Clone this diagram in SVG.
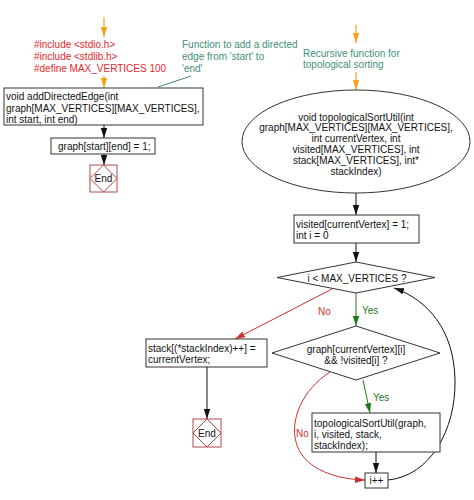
<svg xmlns="http://www.w3.org/2000/svg" width="474" height="500" viewBox="0 0 474 500">
<style>
text{font-family:"Liberation Sans",Arial,sans-serif;font-size:10px;fill:#111}
.box{fill:#fff;stroke:#333;stroke-width:1}
.end{fill:#fff;stroke:#b04848;stroke-width:1}
.pre{fill:#e8262b}
.cmt{fill:#3f8f7a}
.yes{fill:#1e7a1e}
.no{fill:#d23030}
.ln{fill:none;stroke:#111;stroke-width:1}
.lr{fill:none;stroke:#d23030;stroke-width:1}
.lg{fill:none;stroke:#1e7a1e;stroke-width:1}
.lo{fill:none;stroke:#f7a11a;stroke-width:1.2}
</style>
<defs>
<marker id="ab" markerUnits="userSpaceOnUse" markerWidth="10" markerHeight="8" refX="10" refY="4" orient="auto"><path d="M0,0.8 L10,4 L0,7.2 z" fill="#111"/></marker>
<marker id="ar" markerUnits="userSpaceOnUse" markerWidth="10" markerHeight="8" refX="10" refY="4" orient="auto"><path d="M0,0.8 L10,4 L0,7.2 z" fill="#d23030"/></marker>
<marker id="ag" markerUnits="userSpaceOnUse" markerWidth="10" markerHeight="8" refX="10" refY="4" orient="auto"><path d="M0,0.8 L10,4 L0,7.2 z" fill="#1e7a1e"/></marker>
<marker id="ao" markerUnits="userSpaceOnUse" markerWidth="10" markerHeight="8" refX="10" refY="4" orient="auto"><path d="M0,0.8 L10,4 L0,7.2 z" fill="#f7a11a"/></marker>
</defs>
<g id="connectors">
<line class="lo" x1="104" y1="17" x2="104" y2="37" marker-end="url(#ao)"/>
<line class="lo" x1="104" y1="76" x2="104" y2="88" marker-end="url(#ao)"/>
<line class="ln" x1="104" y1="125" x2="104" y2="138" marker-end="url(#ab)"/>
<line class="ln" x1="104" y1="154" x2="104" y2="165" marker-end="url(#ab)"/>
<line x1="158" y1="87" x2="191" y2="76" stroke="#4a8a80" stroke-width="1"/>
<line class="lo" x1="356" y1="25" x2="356" y2="43" marker-end="url(#ao)"/>
<line class="lo" x1="356" y1="72" x2="356" y2="90" marker-end="url(#ao)"/>
<line class="ln" x1="356" y1="193" x2="356" y2="215" marker-end="url(#ab)"/>
<line class="ln" x1="356" y1="243" x2="356" y2="262" marker-end="url(#ab)"/>
<line class="lg" x1="356" y1="293" x2="356" y2="326" marker-end="url(#ag)"/>
<line class="lr" x1="332" y1="289" x2="235" y2="339" marker-end="url(#ar)"/>
<line class="ln" x1="207" y1="367" x2="207" y2="419" marker-end="url(#ab)"/>
<line class="lg" x1="363" y1="380" x2="370" y2="413" marker-end="url(#ag)"/>
<line class="ln" x1="376" y1="452" x2="376" y2="473" marker-end="url(#ab)"/>
<path class="lr" d="M330,372 C302,390 290,420 296,442 C302,466 330,479 365,480" marker-end="url(#ar)"/>
<path class="ln" d="M388,480 C430,476 456,430 455,380 C454,330 428,300 394,288" marker-end="url(#ab)"/>
<text class="no" x="318" y="315">No</text>
<text class="yes" x="362" y="314">Yes</text>
<text class="yes" x="373" y="401">Yes</text>
<text class="no" x="296" y="437">No</text>
</g>
<g id="includes">
<text class="pre" x="34" y="48">#include &lt;stdio.h&gt;</text>
<text class="pre" x="34" y="60">#include &lt;stdlib.h&gt;</text>
<text class="pre" x="34" y="72">#define MAX_VERTICES 100</text>
</g>
<g id="comment1">
<text class="cmt" x="182" y="48">Function to add a directed</text>
<text class="cmt" x="182" y="60">edge from 'start' to</text>
<text class="cmt" x="182" y="72">'end'</text>
</g>
<g id="addDirectedEdge">
<rect class="box" x="4" y="88" width="199" height="37"/>
<text x="6" y="100">void addDirectedEdge(int</text>
<text x="6" y="111.5">graph[MAX_VERTICES][MAX_VERTICES],</text>
<text x="6" y="123">int start, int end)</text>
</g>
<g id="setEdge">
<rect class="box" x="51" y="138" width="104" height="16"/>
<text x="58" y="150">graph[start][end] = 1;</text>
</g>
<g id="end1">
<rect class="end" x="90" y="165" width="27" height="27"/>
<path class="end" d="M103.5,165 L117,178.5 L103.5,192 L90,178.5 z"/>
<text x="103.5" y="182" text-anchor="middle">End</text>
</g>
<g id="comment2">
<text class="cmt" x="303" y="57">Recursive function for</text>
<text class="cmt" x="303" y="68">topological sorting</text>
</g>
<g id="topoSortUtil">
<ellipse class="box" cx="356" cy="141.5" rx="114" ry="51.5"/>
<g text-anchor="middle">
<text x="356" y="120.5">void topologicalSortUtil(int</text>
<text x="356" y="131.3">graph[MAX_VERTICES][MAX_VERTICES],</text>
<text x="356" y="142.1">int currentVertex, int</text>
<text x="356" y="152.9">visited[MAX_VERTICES], int</text>
<text x="356" y="163.7">stack[MAX_VERTICES], int*</text>
<text x="356" y="174.5">stackIndex)</text>
</g>
</g>
<g id="init">
<rect class="box" x="294" y="215" width="125" height="28"/>
<text x="296" y="227.5">visited[currentVertex] = 1;</text>
<text x="296" y="238.5">int i = 0</text>
</g>
<g id="cond1">
<path class="box" d="M356,262 L435,277.5 L356,293 L277,277.5 z"/>
<text x="357" y="281.5" text-anchor="middle">i &lt; MAX_VERTICES ?</text>
</g>
<g id="push">
<rect class="box" x="146" y="339" width="121" height="28"/>
<text x="148" y="352">stack[(*stackIndex)++] =</text>
<text x="148" y="363">currentVertex;</text>
</g>
<g id="end2">
<rect class="end" x="193" y="419" width="28" height="28"/>
<path class="end" d="M207,419 L221,433 L207,447 L193,433 z"/>
<text x="207" y="436.5" text-anchor="middle">End</text>
</g>
<g id="cond2">
<path class="box" d="M356,326 L440,353 L356,380 L272,353 z"/>
<text x="356" y="352.5" text-anchor="middle">graph[currentVertex][i]</text>
<text x="356" y="363.5" text-anchor="middle">&amp;&amp; !visited[i] ?</text>
</g>
<g id="recurse">
<rect class="box" x="312" y="413" width="128" height="39"/>
<text x="314" y="426.5">topologicalSortUtil(graph,</text>
<text x="314" y="438">i, visited, stack,</text>
<text x="314" y="449">stackIndex);</text>
</g>
<g id="incr">
<rect class="box" x="365" y="473" width="23" height="15"/>
<text x="376.5" y="484" text-anchor="middle">i++</text>
</g>
</svg>
